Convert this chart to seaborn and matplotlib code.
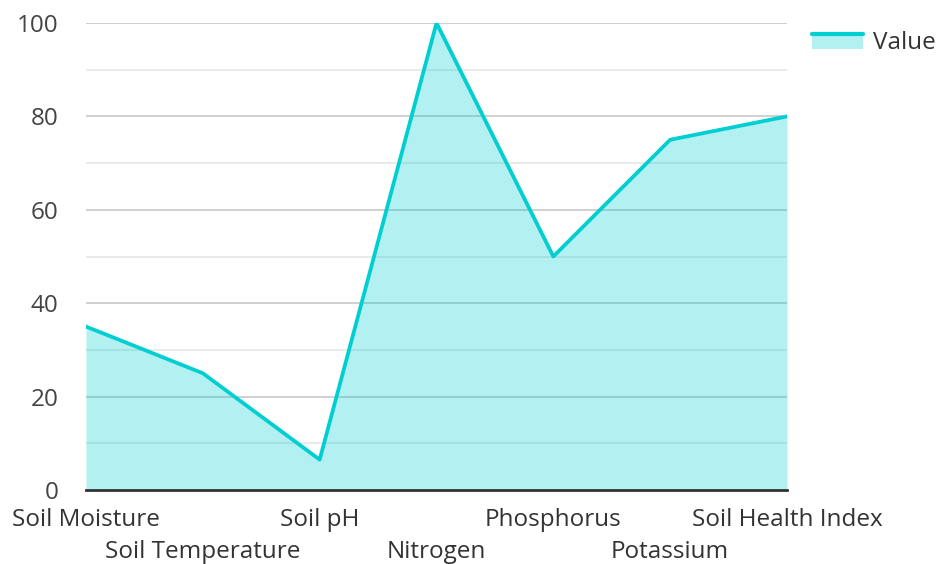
import matplotlib
matplotlib.use("Agg")
import matplotlib.pyplot as plt
import seaborn as sns
import pandas as pd
from matplotlib.patches import Rectangle
from matplotlib.lines import Line2D
from matplotlib.legend_handler import HandlerBase

categories = ["Soil Moisture", "Soil Temperature", "Soil pH", "Nitrogen",
              "Phosphorus", "Potassium", "Soil Health Index"]
values = [35, 25, 6.5, 100, 50, 75, 80]
y_ticks = [0, 20, 40, 60, 80, 100]
series_name = "Value"

LINE = "#00CED1"
FILL = "#B2F0F1"
FS = 17.5

sns.set_theme(style="white")
plt.rcParams['font.family'] = ['Open Sans', 'DejaVu Sans']

df = pd.DataFrame({"pos": range(len(categories)), "cat": categories, "val": values})

fig = plt.figure(figsize=(9.36, 5.64), dpi=100)
ax = fig.add_axes([86/936, 1-490/564, (787-86)/936, (490-23)/564])

for y in range(10, 101, 10):
    if y % 20 == 0:
        ax.axhline(y, color="#c8c8c8", linewidth=1.2, zorder=1)
    else:
        ax.axhline(y, color="#e6e6e6", linewidth=1.2, zorder=1)

ax.fill_between(df["pos"], 0, df["val"], color=LINE, alpha=0.3, zorder=2, linewidth=0)
sns.lineplot(data=df, x="pos", y="val", color=LINE, linewidth=2.7, ax=ax, zorder=3)

ax.set_xlim(0, len(categories)-1)
ax.set_ylim(0, 100)

ax.set_yticks(y_ticks)
ax.set_yticklabels([str(t) for t in y_ticks], fontsize=FS, color="#444444")
ax.set_xticks(df["pos"])
ax.set_xticklabels(categories, fontsize=FS, color="#333333")
ax.tick_params(axis="both", length=0)
ax.tick_params(axis="y", pad=20)
for i, t in enumerate(ax.xaxis.get_major_ticks()):
    t.set_pad(13 if i % 2 == 0 else 36)

for s in ["left", "right", "top"]:
    ax.spines[s].set_visible(False)
ax.spines["bottom"].set_color("#333333")
ax.spines["bottom"].set_linewidth(2)
ax.spines["bottom"].set_zorder(4)
ax.set_xlabel("")
ax.set_ylabel("")


class AreaHandler(HandlerBase):
    def create_artists(self, legend, orig_handle, xdescent, ydescent, width, height, fontsize, trans):
        r = Rectangle((-xdescent, -ydescent), width, height, facecolor=FILL, edgecolor="none", transform=trans)
        l = Line2D([-xdescent, -xdescent + width], [height - ydescent - 1.5, height - ydescent - 1.5],
                   color=LINE, linewidth=3, transform=trans)
        return [r, l]


handle = Rectangle((0, 0), 1, 1)
leg = fig.legend([handle], [series_name], handler_map={Rectangle: AreaHandler()},
                 loc="upper left", bbox_to_anchor=(812/936, 1-31/564), frameon=False,
                 fontsize=FS, handlelength=2.1, handleheight=0.65, handletextpad=0.4,
                 borderpad=0, borderaxespad=0)
for t in leg.get_texts():
    t.set_color("#333333")

fig.savefig("out.png", dpi=100)
